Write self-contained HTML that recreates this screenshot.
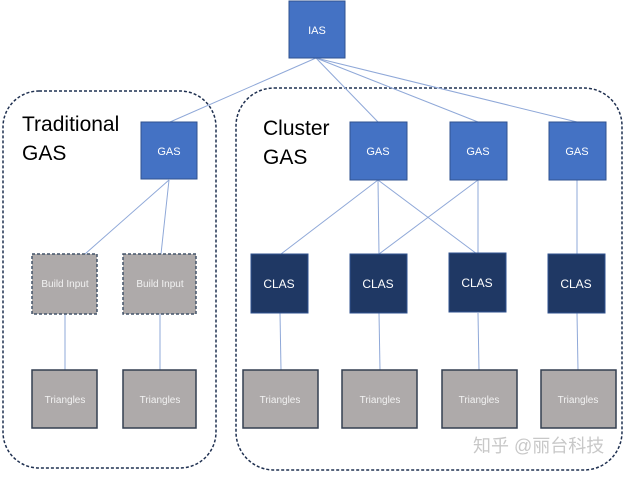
<!DOCTYPE html>
<html><head><meta charset="utf-8"><style>
body{margin:0;background:#fff;width:625px;height:474px;overflow:hidden}
svg text{font-family:"Liberation Sans","Noto Sans CJK SC",sans-serif}
</style></head><body>
<svg width="625" height="474" viewBox="0 0 625 474" xmlns="http://www.w3.org/2000/svg">
<rect x="3" y="91" width="213" height="377" rx="36" fill="none" stroke="#1f3050" stroke-width="1.5" stroke-dasharray="3,2"/>
<rect x="236" y="88" width="386" height="382" rx="38" fill="none" stroke="#1f3050" stroke-width="1.5" stroke-dasharray="3,2"/>
<g stroke="#8fa8d8" stroke-width="1" fill="none">
<line x1="316" y1="58" x2="170" y2="122"/>
<line x1="316" y1="58" x2="378" y2="122"/>
<line x1="316" y1="58" x2="478" y2="122"/>
<line x1="316" y1="58" x2="577" y2="122"/>
<line x1="169" y1="180" x2="85" y2="254"/>
<line x1="169" y1="180" x2="161" y2="254"/>
<line x1="65" y1="314" x2="65" y2="370"/>
<line x1="160" y1="314" x2="160" y2="370"/>
<line x1="378" y1="180" x2="281" y2="254"/>
<line x1="378" y1="180" x2="379" y2="254"/>
<line x1="378" y1="180" x2="477" y2="254"/>
<line x1="478" y1="180" x2="379" y2="254"/>
<line x1="478" y1="180" x2="478" y2="254"/>
<line x1="577" y1="180" x2="577" y2="254"/>
<line x1="280" y1="313" x2="281" y2="370"/>
<line x1="379" y1="313" x2="380" y2="370"/>
<line x1="478" y1="313" x2="479" y2="370"/>
<line x1="577" y1="313" x2="578" y2="370"/>
</g>
<g fill="#4472c4" stroke="#2f528f" stroke-width="1">
<rect x="289" y="1" width="56" height="57"/>
<rect x="141" y="122" width="56" height="57"/>
<rect x="350" y="122" width="57" height="58"/>
<rect x="450" y="122" width="57" height="58"/>
<rect x="549" y="122" width="57" height="58"/>
</g>
<g fill="#1f3864" stroke="#2f528f" stroke-width="1">
<rect x="251" y="254" width="57" height="59"/>
<rect x="350" y="254" width="57" height="59"/>
<rect x="449" y="253" width="57" height="59"/>
<rect x="548" y="254" width="57" height="59"/>
</g>
<g fill="#aeaaaa" stroke="#44546a" stroke-width="1.5" stroke-dasharray="3,2">
<rect x="32" y="254" width="65" height="60"/>
<rect x="123" y="254" width="73" height="60"/>
</g>
<g fill="#aeaaaa" stroke="#333f50" stroke-width="1.5">
<rect x="32" y="370" width="65" height="58"/>
<rect x="123" y="370" width="73" height="58"/>
<rect x="243" y="370" width="75" height="58"/>
<rect x="342" y="370" width="75" height="58"/>
<rect x="442" y="370" width="75" height="58"/>
<rect x="541" y="370" width="75" height="58"/>
</g>
<g fill="#fff" font-size="11" text-anchor="middle">
<text x="317" y="34">IAS</text>
<text x="169" y="155">GAS</text>
<text x="378" y="155">GAS</text>
<text x="478" y="155">GAS</text>
<text x="577" y="155">GAS</text>
<text x="279" y="288" font-size="12">CLAS</text>
<text x="378" y="288" font-size="12">CLAS</text>
<text x="477" y="287" font-size="12">CLAS</text>
<text x="576" y="288" font-size="12">CLAS</text>
</g>
<g fill="#f2f2f2" font-size="10" text-anchor="middle">
<text x="65" y="287">Build Input</text>
<text x="160" y="287">Build Input</text>
<text x="65" y="403">Triangles</text>
<text x="160" y="403">Triangles</text>
<text x="280" y="403">Triangles</text>
<text x="380" y="403">Triangles</text>
<text x="479" y="403">Triangles</text>
<text x="578" y="403">Triangles</text>
</g>
<g fill="#000" font-size="21">
<text x="22" y="131">Traditional</text>
<text x="22" y="160">GAS</text>
<text x="263" y="135">Cluster</text>
<text x="263" y="164">GAS</text>
</g>
<text x="473" y="452" font-size="18" fill="#c8c8c8">知乎 @丽台科技</text>
</svg>
</body></html>
